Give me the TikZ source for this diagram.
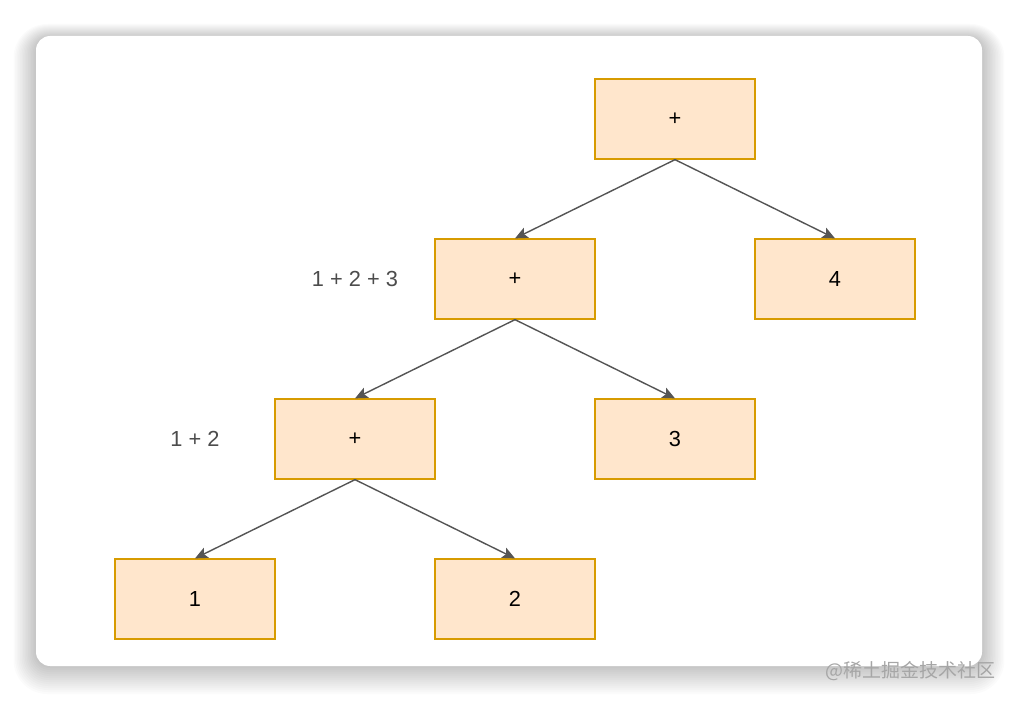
\documentclass[tikz,border=0pt]{standalone}
\usepackage{fontspec}
\setmainfont{Liberation Sans}
\newfontfamily\cjk{Noto Sans CJK SC}
\usetikzlibrary{arrows.meta}
\definecolor{boxfill}{HTML}{FFE6CC}
\definecolor{boxline}{HTML}{D79B00}
\definecolor{edge}{HTML}{555555}
\tikzset{
  px/.style={x=0.025cm,y=-0.025cm},
  tbox/.style={draw=boxline,fill=boxfill,line width=0.9pt,minimum width=4cm,minimum height=2cm,inner sep=0pt,font=\fontsize{15.5}{18}\selectfont},
  lbl/.style={font=\fontsize{15.5}{18}\selectfont,text=edge!90!black},
  conn/.style={draw=edge,line width=1pt,-{Stealth[length=9pt,width=8pt,inset=2pt]}}
}
\begin{document}
\begin{tikzpicture}[px]
\useasboundingbox (0,0) rectangle (1018,702);
\fill[white] (0,0) rectangle (1018,702);
\foreach \i in {1,...,14}{
  \fill[black,opacity=0.014,rounded corners=10+\i] (36-\i*1.6,38-\i*1.0) rectangle (982+\i*1.6,666+\i*2.0);
}
\fill[white,rounded corners=10] (36,36) rectangle (982,666);
\node[tbox] (p1) at (675,119) {+};
\node[tbox] (p2) at (515,279) {+};
\node[tbox] (n4) at (835,279) {4};
\node[tbox] (p3) at (355,439) {+};
\node[tbox] (n3) at (675,439) {3};
\node[tbox] (n1) at (195,599) {1};
\node[tbox] (n2) at (515,599) {2};
\node[lbl] (l1) at (355,279) {1 + 2 + 3};
\node[lbl] (l2) at (195,439) {1 + 2};
\draw[conn] (p1.south) -- (p2.north);
\draw[conn] (p1.south) -- (n4.north);
\draw[conn] (p2.south) -- (p3.north);
\draw[conn] (p2.south) -- (n3.north);
\draw[conn] (p3.south) -- (n1.north);
\draw[conn] (p3.south) -- (n2.north);
\node[text=black!35,font=\cjk\fontsize{13.5}{15}\selectfont,anchor=east] (wm) at (1000,671) {@稀土掘金技术社区};
\end{tikzpicture}
\end{document}
